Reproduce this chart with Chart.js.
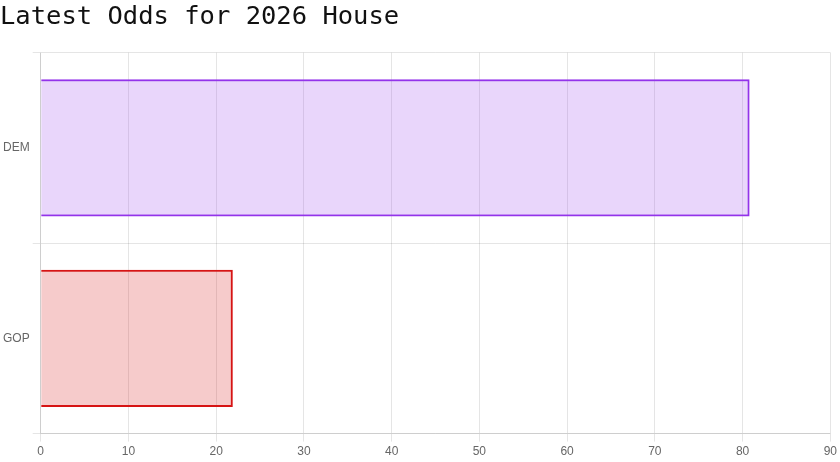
<!DOCTYPE html>
<html>
<head>
<meta charset="utf-8">
<script src="https://cdn.jsdelivr.net/npm/chart.js@4"></script>
<style>
  html, body { margin: 0; padding: 0; background: #fff; }
  #wrap { width: 840px; height: 462px; }
</style>
</head>
<body>
<div id="wrap"><canvas id="chart"></canvas></div>
<script>
// values
var parties = ["DEM", "GOP"];
var odds = [80.8, 21.9];
var borderColors = ["rgb(147, 51, 234)", "rgb(214, 20, 20)"];
var fillColors = ["rgba(147, 51, 234, 0.2)", "rgba(214, 20, 20, 0.22)"];

var node = document.getElementById("chart");
var myChart = new Chart(node, {
  type: "bar",
  data: {
    labels: parties,
    datasets: [{
      label: "Odds",
      data: odds,
      backgroundColor: fillColors,
      borderColor: borderColors,
      borderWidth: 2
    }]
  },
  options: {
    indexAxis: "y",
    responsive: true,
    maintainAspectRatio: false,
    animation: false,
    plugins: {
      legend: { display: false },
      title: {
        display: true,
        text: "Latest Odds for 2026 House",
        align: "start",
        color: "#111",
        font: { family: "'DejaVu Sans Mono', monospace", size: 25.5, weight: "normal" },
        padding: { top: 2, bottom: 20 }
      }
    },
    scales: {
      x: {
        min: 0,
        max: 90,
        ticks: { stepSize: 10 }
      },
      y: {}
    }
  }
});
</script>
</body>
</html>
